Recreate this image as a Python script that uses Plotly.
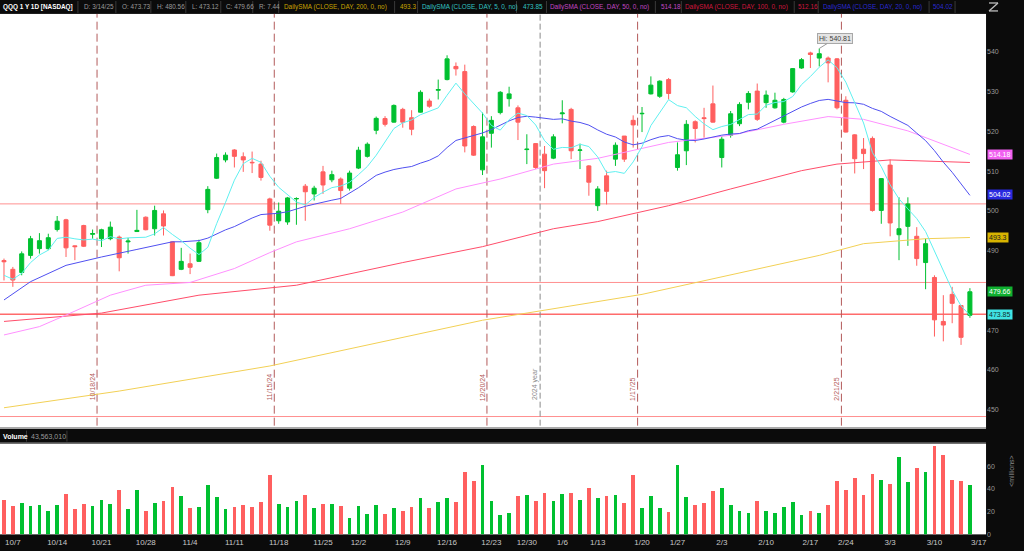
import pandas as pd
import plotly.graph_objects as go

# ---------------- data ----------------
holidays = ["2024-11-28", "2024-12-25", "2025-01-01", "2025-01-09", "2025-01-20", "2025-02-17"]
dates = [d for d in pd.bdate_range("2024-10-04", "2025-03-14") if d.strftime("%Y-%m-%d") not in holidays]

opens = [487.5, 485.3, 484.5, 488.8, 490.5, 490.5, 495.3, 497.75, 491.2, 496.3,
         494.1, 493.0, 493.0, 493.4, 492.2, 494.8, 498.4, 495.5, 499.25, 492.2,
         485.3, 486.7, 487.3, 500.3, 508.2, 512.8, 515.3, 513.6, 512.2, 511.75,
         503.0, 497.5, 497.2, 503.0, 506.2, 504.25, 509.8, 507.8, 508.0, 505.7,
         510.75, 513.7, 520.25, 523.2, 522.3, 525.5, 523.4, 524.8, 527.6, 530.3,
         533.0, 536.3, 535.0, 521.2, 510.3, 519.5, 524.7, 528.2, 525.9, 515.4,
         516.9, 514.25, 513.25, 524.4, 525.5, 515.2, 511.3, 501.3, 508.8, 513.0,
         518.8, 522.75, 524.4, 529.4, 528.8, 533.0, 510.9, 515.1, 522.4, 523.4,
         526.9, 513.4, 519.0, 521.9, 527.3, 530.1, 527.2, 525.9, 522.3, 529.9,
         535.9, 539.7, 538.4, 538.4, 538.2, 527.8, 519.1, 515.5, 518.2, 500.1,
         511.5, 494.0, 496.1, 493.6, 487.0, 483.25, 472.2, 479.0, 476.2, 473.73]
highs = [488.0, 485.9, 489.8, 493.7, 494.4, 494.25, 498.7, 498.0, 491.3, 496.5,
         495.3, 495.5, 497.3, 493.8, 493.2, 500.25, 498.6, 501.3, 500.1, 492.3,
         490.7, 489.25, 492.75, 506.2, 514.4, 514.7, 515.5, 514.7, 514.9, 512.6,
         503.3, 502.1, 503.5, 503.4, 506.75, 506.3, 511.3, 510.1, 508.4, 510.1,
         516.1, 517.2, 523.7, 523.8, 526.75, 525.9, 525.3, 530.3, 528.2, 533.0,
         539.1, 537.3, 536.75, 521.5, 524.7, 523.8, 530.1, 531.2, 526.5, 519.25,
         517.0, 516.3, 519.25, 527.8, 525.9, 516.9, 511.5, 506.2, 510.1, 517.2,
         518.8, 524.0, 526.1, 533.8, 532.8, 533.4, 517.2, 522.8, 522.75, 525.9,
         531.5, 518.8, 525.1, 527.3, 530.1, 532.0, 530.25, 529.7, 528.4, 535.9,
         538.4, 540.0, 540.81, 538.8, 538.4, 528.8, 519.25, 518.3, 518.7, 508.2,
         512.9, 503.4, 503.4, 495.9, 493.0, 483.8, 478.8, 480.9, 476.3, 480.56]
lows = [482.5, 480.9, 483.8, 488.0, 489.25, 490.1, 494.8, 488.4, 487.6, 490.9,
        493.0, 490.9, 492.6, 484.8, 489.25, 494.7, 495.1, 493.8, 493.8, 483.6,
        485.1, 484.1, 487.2, 499.4, 508.0, 512.2, 510.9, 509.8, 509.5, 507.6,
        495.0, 496.75, 496.5, 496.5, 497.5, 502.6, 504.25, 507.2, 501.75, 505.1,
        510.5, 513.4, 519.25, 521.2, 522.2, 520.9, 519.0, 524.7, 525.9, 528.0,
        532.8, 534.0, 514.7, 513.8, 509.0, 515.9, 524.25, 526.2, 517.8, 511.75,
        510.5, 505.7, 513.0, 522.0, 513.0, 510.5, 503.8, 500.0, 501.6, 511.3,
        512.3, 515.9, 519.8, 529.25, 528.4, 528.0, 510.1, 511.5, 517.2, 518.4,
        522.2, 510.9, 518.4, 521.3, 525.5, 522.6, 525.9, 525.7, 522.0, 529.7,
        535.7, 535.9, 536.3, 532.3, 525.5, 519.7, 509.4, 510.5, 499.8, 496.75,
        493.6, 487.6, 491.2, 486.2, 480.3, 468.4, 467.2, 471.75, 466.3, 473.12]
closes = [487.2, 482.6, 489.2, 493.0, 492.5, 493.25, 497.4, 490.7, 491.0, 491.1,
          494.3, 495.25, 495.9, 488.2, 492.4, 495.1, 495.25, 500.1, 496.2, 483.7,
          487.3, 485.8, 492.0, 505.4, 513.4, 514.0, 513.7, 512.8, 512.1, 508.4,
          496.4, 499.9, 503.25, 503.1, 504.8, 505.7, 506.5, 509.1, 505.1, 509.5,
          515.25, 516.75, 523.25, 521.75, 526.5, 522.3, 520.5, 529.8, 526.3, 530.5,
          538.2, 535.7, 516.3, 514.0, 518.6, 522.75, 529.8, 529.4, 522.3, 515.5,
          510.9, 510.1, 518.6, 524.6, 515.1, 515.3, 507.2, 505.5, 504.9, 516.5,
          513.0, 521.6, 524.5, 531.6, 532.6, 529.5, 514.1, 521.75, 520.7, 523.2,
          522.3, 518.0, 524.4, 526.75, 529.5, 523.0, 529.1, 527.8, 528.0, 535.75,
          538.0, 539.3, 539.5, 537.2, 525.9, 519.8, 513.1, 514.4, 500.1, 508.1,
          496.95, 495.5, 501.75, 488.0, 491.75, 472.6, 471.3, 476.75, 468.2, 479.66]
volumes = [30.9, 25.1, 28.3, 25.1, 26.2, 21.0, 26.2, 35.6, 23.0, 27.4,
           25.7, 30.6, 26.8, 39.7, 22.4, 39.1, 20.7, 28.3, 30.0, 42.0,
           34.4, 23.6, 24.5, 43.4, 33.2, 23.0, 24.5, 26.2, 24.5, 28.9,
           52.2, 27.4, 24.5, 30.0, 34.7, 23.9, 26.8, 26.8, 25.1, 15.2,
           25.7, 18.7, 26.2, 18.1, 23.9, 21.0, 24.5, 32.7, 23.9, 28.9,
           32.1, 28.9, 55.4, 47.2, 61.2, 29.7, 17.5, 19.3, 34.4, 34.7,
           29.4, 36.7, 29.4, 36.2, 36.7, 30.9, 41.1, 32.1, 34.4, 35.3,
           28.3, 52.5, 23.9, 34.1, 23.3, 20.1, 61.5, 33.5, 26.5, 27.7,
           38.8, 41.1, 25.9, 21.3, 19.5, 29.7, 20.7, 19.5, 24.8, 28.9,
           17.8, 20.7, 19.5, 26.5, 47.5, 39.7, 49.9, 34.7, 53.1, 48.1,
           44.9, 68.8, 46.9, 58.6, 55.1, 77.8, 70.0, 47.8, 47.2, 43.56]

# moving averages: early values (window before chart start)
sma5_head = [483.8, 482.8, 484.3, 487.0]
sma20_head_idx = [0, 3, 7, 11, 15, 17]
sma20_head = [477.6, 482.2, 486.3, 488.4, 490.3, 491.3]
sma50_idx = [0, 4, 7, 12, 16, 21, 26, 30, 33, 39, 45, 51, 56, 62, 67, 75, 82, 88, 93, 97, 102, 108, 109]
sma50 = [468.8, 470.9, 473.8, 478.8, 481.3, 482.0, 485.5, 489.5, 492.2, 495.5, 499.7, 505.5, 508.0,
         511.75, 513.2, 517.2, 519.0, 521.75, 523.7, 523.0, 520.1, 515.1, 514.18]
sma100_idx = [0, 11, 22, 33, 45, 54, 62, 67, 75, 82, 90, 94, 100, 108, 109]
sma100 = [472.2, 474.3, 478.8, 481.3, 487.0, 491.0, 495.5, 497.3, 501.3, 505.5, 510.1, 511.75, 512.8, 512.3, 512.16]
sma200_idx = [0, 9, 13, 30, 54, 72, 92, 97, 104, 109]
sma200 = [450.5, 453.4, 454.7, 461.0, 472.5, 479.0, 488.8, 491.75, 493.0, 493.3]

price_levels = [501.75, 482.0, 474.0, 448.3]
price_ticks = [450, 460, 470, 490, 500, 510, 520, 530, 540]
expiry_labels = ["10/18/24", "11/15/24", "12/20/24", "1/17/25", "2/21/25"]
expiry_dates = ["2024-10-18", "2024-11-15", "2024-12-20", "2025-01-17", "2025-02-21"]
year_label = "2024 year"
year_last_date = "2024-12-31"
week_labels = ["10/7", "10/14", "10/21", "10/28", "11/4", "11/11", "11/18", "11/25", "12/2", "12/9",
               "12/16", "12/23", "12/30", "1/6", "1/13", "1/20", "1/27", "2/3", "2/10", "2/17",
               "2/24", "3/3", "3/10", "3/17"]
week_dates = ["2024-10-07", "2024-10-14", "2024-10-21", "2024-10-28", "2024-11-04", "2024-11-11",
              "2024-11-18", "2024-11-25", "2024-12-02", "2024-12-09", "2024-12-16", "2024-12-23",
              "2024-12-30", "2025-01-06", "2025-01-13", "2025-01-20", "2025-01-27", "2025-02-03",
              "2025-02-10", "2025-02-17", "2025-02-24", "2025-03-03", "2025-03-10", "2025-03-17"]

# ---------------- derived ----------------
n = len(dates)
didx = pd.DatetimeIndex(dates)
xs = list(range(n))
cser = pd.Series(closes)
sma5 = cser.rolling(5).mean().tolist()
sma5[:4] = sma5_head
sma20_roll = cser.rolling(20).mean()
sma20_x = sma20_head_idx + list(range(19, n))
sma20_y = sma20_head + sma20_roll.iloc[19:].tolist()
week_pos = [int(didx.searchsorted(pd.Timestamp(d))) for d in week_dates]
exp_pos = [int(didx.searchsorted(pd.Timestamp(d))) + 0.5 for d in expiry_dates]
year_pos = int(didx.searchsorted(pd.Timestamp(year_last_date))) + 0.5

W, H = 1024, 551
def px(x): return x / W
def py(y): return 1 - y / H

GREEN = "#00c030"
RED = "#ff5f5f"
XR = [-0.45, 110.82]
XD = [0, 987 / W]
FONT = "Liberation Sans"

fig = go.Figure()
fig.add_trace(go.Candlestick(
    x=xs, open=opens, high=highs, low=lows, close=closes, xaxis="x", yaxis="y",
    increasing=dict(line=dict(color=GREEN, width=1), fillcolor=GREEN),
    decreasing=dict(line=dict(color=RED, width=1), fillcolor=RED),
    whiskerwidth=0, showlegend=False, hoverinfo="skip"))

def line(xv, yv, color):
    fig.add_trace(go.Scatter(x=xv, y=yv, mode="lines", line=dict(color=color, width=1),
                             xaxis="x", yaxis="y", showlegend=False, hoverinfo="skip"))

line(sma200_idx, sma200, "#f2d055")
line(sma100_idx, sma100, "#ff4d6a")
line(sma50_idx, sma50, "#ff90ff")
line(sma20_x, sma20_y, "#5050f0")
line(xs, sma5, "#5ff0f0")

vol_colors = [GREEN if c >= o else RED for o, c in zip(opens, closes)]
fig.add_trace(go.Bar(x=xs, y=volumes, marker=dict(color=vol_colors, line=dict(width=0)), width=0.42,
                     xaxis="x2", yaxis="y2", showlegend=False, hoverinfo="skip"))

shapes = []
for lv in price_levels:
    shapes.append(dict(type="line", xref="paper", yref="y", x0=0, x1=XD[1], y0=lv, y1=lv,
                       line=dict(color="#ff6b6b" if lv == 474.0 else "#ff9090",
                                 width=1.6 if lv == 474.0 else 1), layer="below"))
for xp in exp_pos:
    shapes.append(dict(type="line", xref="x", yref="paper", x0=xp, x1=xp, y0=py(428), y1=py(14),
                       line=dict(color="#b35a5a", width=1, dash="8px,4px"), layer="below"))
shapes.append(dict(type="line", xref="x", yref="paper", x0=year_pos, x1=year_pos, y0=py(428), y1=py(14),
                   line=dict(color="#8a8a8a", width=1, dash="6px,3px"), layer="below"))
# header separators
for sx in [78, 116, 151, 186, 221, 253, 279, 395, 418, 517, 547, 656, 682, 795, 819, 930, 956]:
    shapes.append(dict(type="line", xref="paper", yref="paper", x0=px(sx), x1=px(sx), y0=py(1), y1=py(13),
                       line=dict(color="#3a3a3a", width=1)))
for sx in [26.5, 67]:
    shapes.append(dict(type="line", xref="paper", yref="paper", x0=px(sx), x1=px(sx), y0=py(433), y1=py(444),
                       line=dict(color="#3a3a3a", width=1)))
shapes.append(dict(type="line", xref="paper", yref="paper", x0=0, x1=XD[1], y0=py(445), y1=py(445),
                   line=dict(color="#555555", width=1)))
shapes.append(dict(type="line", xref="paper", yref="paper", x0=0, x1=XD[1], y0=py(430), y1=py(430),
                   line=dict(color="#9a9a9a", width=1)))
# zoom icon
for (a, b, c, d) in [(990, 3, 999, 3), (999, 3, 990, 11), (990, 11, 999, 11)]:
    shapes.append(dict(type="line", xref="paper", yref="paper", x0=px(a), y0=py(b), x1=px(c), y1=py(d),
                       line=dict(color="#bdbdbd", width=1.3)))

ann = []
head = [("<b>QQQ 1 Y 1D [NASDAQ]</b>", 1, "#ffffff"), ("D: 3/14/25", 82, "#9a9a9a"),
        ("O: 473.73", 120, "#9a9a9a"), ("H: 480.56", 155, "#9a9a9a"), ("L: 473.12", 190, "#9a9a9a"),
        ("C: 479.66", 224, "#9a9a9a"), ("R: 7.44", 257, "#9a9a9a"),
        ("DailySMA (CLOSE, DAY, 200, 0, no)", 282, "#c9a400"), ("493.3", 398, "#c9a400"),
        ("DailySMA (CLOSE, DAY, 5, 0, no)", 420, "#33c2c2"), ("473.85", 522, "#33c2c2"),
        ("DailySMA (CLOSE, DAY, 50, 0, no)", 549, "#c447c4"), ("514.18", 660, "#c447c4"),
        ("DailySMA (CLOSE, DAY, 100, 0, no)", 684, "#d0163e"), ("512.16", 797, "#d0163e"),
        ("DailySMA (CLOSE, DAY, 20, 0, no)", 822, "#2a2ad0"), ("504.02", 932, "#2a2ad0")]
for t, x0, col in head:
    ann.append(dict(text=t, x=px(x0), y=py(7), xref="paper", yref="paper", xanchor="left", yanchor="middle",
                    showarrow=False, font=dict(family=FONT, size=6.4, color=col)))
ann.append(dict(text="<b>Volume</b>", x=px(1), y=py(438.5), xref="paper", yref="paper", xanchor="left",
                yanchor="middle", showarrow=False, font=dict(family=FONT, size=7, color="#ffffff")))
ann.append(dict(text="43,563,010", x=px(29), y=py(438.5), xref="paper", yref="paper", xanchor="left",
                yanchor="middle", showarrow=False, font=dict(family=FONT, size=7, color="#9a9a9a")))
ann.append(dict(text="&lt;millions&gt;", x=px(1018), y=py(492), xref="paper", yref="paper", textangle=-90,
                showarrow=False, font=dict(family=FONT, size=7, color="#8a8a8a")))
# right-axis value tags
tags = [(514.18, "514.18", "#f060f0", "#ffffff"), (504.02, "504.02", "#2a2ae0", "#ffffff"),
        (493.3, "493.3", "#d8b400", "#202020"), (479.66, "479.66", "#10b030", "#ffffff"),
        (473.85, "473.85", "#40e4e4", "#103030")]
for v, t, bg, fc in tags:
    ann.append(dict(text=t, x=px(988), y=v, xref="paper", yref="y", xanchor="left", yanchor="middle",
                    showarrow=False, bgcolor=bg, borderpad=1, font=dict(family=FONT, size=7, color=fc)))
# expiry labels
for xp, t in zip(exp_pos, expiry_labels):
    ann.append(dict(text=t, x=xp, y=py(405), xref="x", yref="paper", xshift=-5, textangle=-90,
                    showarrow=False, font=dict(family=FONT, size=7, color="#b35a5a")))
ann.append(dict(text=year_label, x=year_pos, y=py(404), xref="x", yref="paper", xshift=-5, textangle=-90,
                showarrow=False, font=dict(family=FONT, size=7, color="#8a8a8a")))
# high marker
hi_i = highs.index(max(highs))
ann.append(dict(text="Hi: %.2f" % max(highs), x=hi_i, y=max(highs), xref="x", yref="y", ax=16, ay=-10,
                showarrow=True, arrowhead=0, arrowcolor="#9a9a9a", arrowwidth=1, standoff=0,
                bgcolor="#e4e4e4", bordercolor="#a8a8a8", borderwidth=1, borderpad=1,
                font=dict(family=FONT, size=7, color="#404040")))

fig.update_layout(
    width=W, height=H, margin=dict(l=0, r=0, t=0, b=0),
    paper_bgcolor="#0b0b0b", plot_bgcolor="#ffffff",
    font=dict(family=FONT, size=7, color="#9a9a9a"),
    boxgap=0.35, bargap=0,
    showlegend=False, shapes=shapes, annotations=ann,
    xaxis=dict(domain=XD, range=XR, anchor="y", showticklabels=False, showgrid=False, zeroline=False,
               rangeslider=dict(visible=False), fixedrange=True),
    yaxis=dict(domain=[py(431), py(14)], range=[445.25, 549.5], anchor="x", side="right",
               tickvals=price_ticks, showgrid=False, zeroline=False, ticks="",
               tickfont=dict(family=FONT, size=7, color="#9a9a9a"), fixedrange=True),
    xaxis2=dict(domain=XD, range=XR, anchor="y2", tickvals=week_pos, ticktext=week_labels,
                showgrid=False, zeroline=False, ticks="", ticklabelstandoff=2,
                tickfont=dict(family=FONT, size=8, color="#c8c8c8"), fixedrange=True),
    yaxis2=dict(domain=[py(537.3), py(446)], range=[0, 79.9], anchor="x2", side="right",
                tickvals=[0, 20, 40, 60], showgrid=False, zeroline=False, ticks="",
                tickfont=dict(family=FONT, size=7, color="#9a9a9a"), fixedrange=True),
)

fig.write_html("out.html", config={"displayModeBar": False},
               post_script="document.body.style.margin='0px';document.body.style.overflow='hidden';")
